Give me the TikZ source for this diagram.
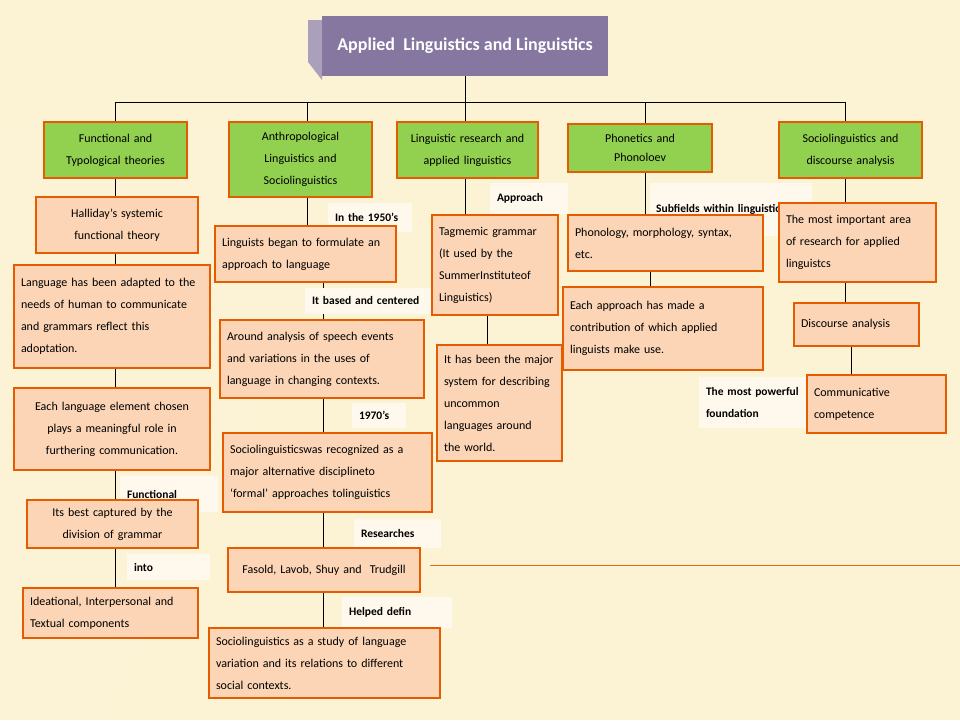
\documentclass[tikz,border=0pt]{standalone}
\usepackage{fontspec}
\setmainfont{Carlito}
\begin{document}
\begin{tikzpicture}[x=1pt,y=-1pt,
  base/.style={draw=orange!80!red!90!black,line width=2pt,inner xsep=6pt,inner ysep=4pt,font=\fontsize{12}{22}\selectfont},
  gbox/.style={base,align=center,fill={rgb,255:red,146;green,208;blue,80}},
  pbox/.style={base,fill={rgb,255:red,251;green,213;blue,181}},
  lbox/.style={fill={rgb,255:red,255;green,248;blue,236},inner xsep=6pt,inner ysep=4pt,font=\bfseries\fontsize{11.5}{22}\selectfont,align=left},
  conn/.style={black,line width=0.8pt}]
\definecolor{bg}{RGB}{252,242,212}
\definecolor{tp}{RGB}{133,119,160}
\definecolor{oline}{RGB}{228,108,10}
\useasboundingbox (0,0) rectangle (960,720);
\begin{scope}
\clip (0,0) rectangle (960,720);
\fill[bg] (0,0) rectangle (960,720);
\foreach \i in {0,8,...,400}{\draw[white,opacity=0.35,line width=2pt] (\i-300,720) -- (\i,120);}
\fill[bg,opacity=0.6] (0,0) rectangle (960,720);
\end{scope}
\newcommand\bx[7]{\pgfmathsetmacro\w{#4-#2}\pgfmathsetmacro\h{#5-#3}\pgfmathsetmacro\tw{#4-#2-14}
  \node[#6,minimum width=\w pt,minimum height=\h pt,text width=\tw pt] (#1) at ({(#2+#4)/2},{(#3+#5)/2}) {#7};}
% title
\fill[tp!70!white] (308,20) -- (322,20) -- (322,80) -- (308,62) -- cycle;
\node[fill=tp,minimum width=286pt,minimum height=60pt,text=white,font=\bfseries\fontsize{18}{20}\selectfont] (title) at (465,46) {\raisebox{4pt}{Applied\ \ Linguistics and Linguistics}};
% tree
\coordinate (hl) at (115,102); \coordinate (hr) at (845,102);
\draw[conn] (title.south) -- (465,102);
\draw[conn] (hl) -- (hr);
\foreach \x in {115,307,465,645,845}{\draw[conn] (\x,102) -- (\x,125);}
\draw[oline,line width=0.8pt] (430,565) -- (960,565);
% spines
\draw[conn] (115,170) -- (115,600);
\draw[conn] (307,190) -- (307,230);
\draw[conn] (323,280) -- (323,635);
\draw[conn] (465,170) -- (465,220);
\draw[conn] (487,310) -- (487,350);
\draw[conn] (645,170) -- (645,220);
\draw[conn] (650,268) -- (650,290);
\draw[conn] (845,170) -- (845,210);
\draw[conn] (845,280) -- (845,305);
\draw[conn] (851,343) -- (851,380);
% green
\bx{g1}{44}{122}{187}{178}{gbox,align=center}{Functional and\\Typological theories}
\bx{g2}{229}{122}{372}{197}{gbox,align=center}{Anthropological\\Linguistics and\\Sociolinguistics}
\bx{g3}{397}{122}{538}{178}{gbox,align=center}{Linguistic research and\\applied linguistics}
\bx{g4}{568}{124}{712}{172}{gbox,align=center}{Phonetics and\\[-3pt]Phonoloev}
\bx{g5}{779}{122}{922}{178}{gbox,align=center}{Sociolinguistics and\\discourse analysis}
% labels
\bx{l1}{120}{476}{218}{512}{lbox}{Functional}
\bx{l2}{127}{554}{210}{580}{lbox}{into}
\bx{l3}{328}{203}{412}{232}{lbox}{In the 1950’s}
\bx{l4}{305}{288}{432}{314}{lbox}{It based and centered}
\bx{l5}{352}{403}{406}{428}{lbox}{1970’s}
\bx{l6}{354}{519}{441}{548}{lbox}{Researches}
\bx{l7}{342}{597}{452}{628}{lbox}{Helped defin}
\bx{l8}{490}{183}{568}{214}{lbox}{Approach}
\node[lbox,anchor=north west,minimum width=162pt,minimum height=53pt,text width=150pt] (l9) at (650,183) {Subfields within linguistics};
\bx{l10}{699}{377}{806}{428}{lbox}{The most powerful\\foundation}
% column 1
\bx{a1}{36}{197}{198}{253}{pbox,align=center}{Halliday’s systemic\\functional theory}
\bx{a2}{14}{265}{210}{368}{pbox,align=left}{Language has been adapted to the\\needs of human to communicate\\and grammars reflect this\\adoptation.}
\bx{a3}{14}{388}{210}{470}{pbox,align=center}{Each language element chosen\\plays a meaningful role in\\furthering communication.}
\bx{a4}{27}{500}{198}{548}{pbox,align=center}{Its best captured by the\\division of grammar}
\bx{a5}{23}{588}{198}{638}{pbox,align=left}{Ideational, Interpersonal and\\Textual components}
% column 2
\bx{b1}{215}{226}{396}{282}{pbox,align=left}{Linguists began to formulate an\\approach to language}
\bx{b2}{220}{320}{424}{398}{pbox,align=left}{Around analysis of speech events\\and variations in the uses of\\language in changing contexts.}
\bx{b3}{223}{433}{432}{512}{pbox,align=left}{Sociolinguisticswas recognized as a\\major alternative disciplineto\\‘formal’ approaches tolinguistics}
\bx{b4}{228}{548}{420}{592}{pbox,align=center}{Fasold, Lavob, Shuy and\ \ Trudgill}
\bx{b5}{209}{628}{440}{698}{pbox,align=left}{Sociolinguistics as a study of language\\variation and its relations to different\\social contexts.}
% column 3
\bx{c1}{432}{215}{558}{315}{pbox,align=left}{Tagmemic grammar\\(It used by the\\SummerInstituteof\\Linguistics)}
\bx{c2}{437}{345}{562}{461}{pbox,align=left}{It has been the major\\system for describing\\uncommon\\languages around\\the world.}
% column 4
\bx{d1}{568}{215}{763}{271}{pbox,align=left}{Phonology, morphology, syntax,\\etc.}
\bx{d2}{563}{287}{763}{370}{pbox,align=left}{Each approach has made a\\contribution of which applied\\linguists make use.}
% column 5
\bx{e1}{779}{203}{936}{282}{pbox,align=left}{The most important area\\of research for applied\\linguistcs}
\node[pbox,align=left,anchor=north west,minimum width=125pt,minimum height=43pt,text width=111pt] (e2) at (793,302) {Discourse analysis};
\bx{e3}{807}{375}{946}{433}{pbox,align=left}{Communicative\\competence}
\end{tikzpicture}
\end{document}
